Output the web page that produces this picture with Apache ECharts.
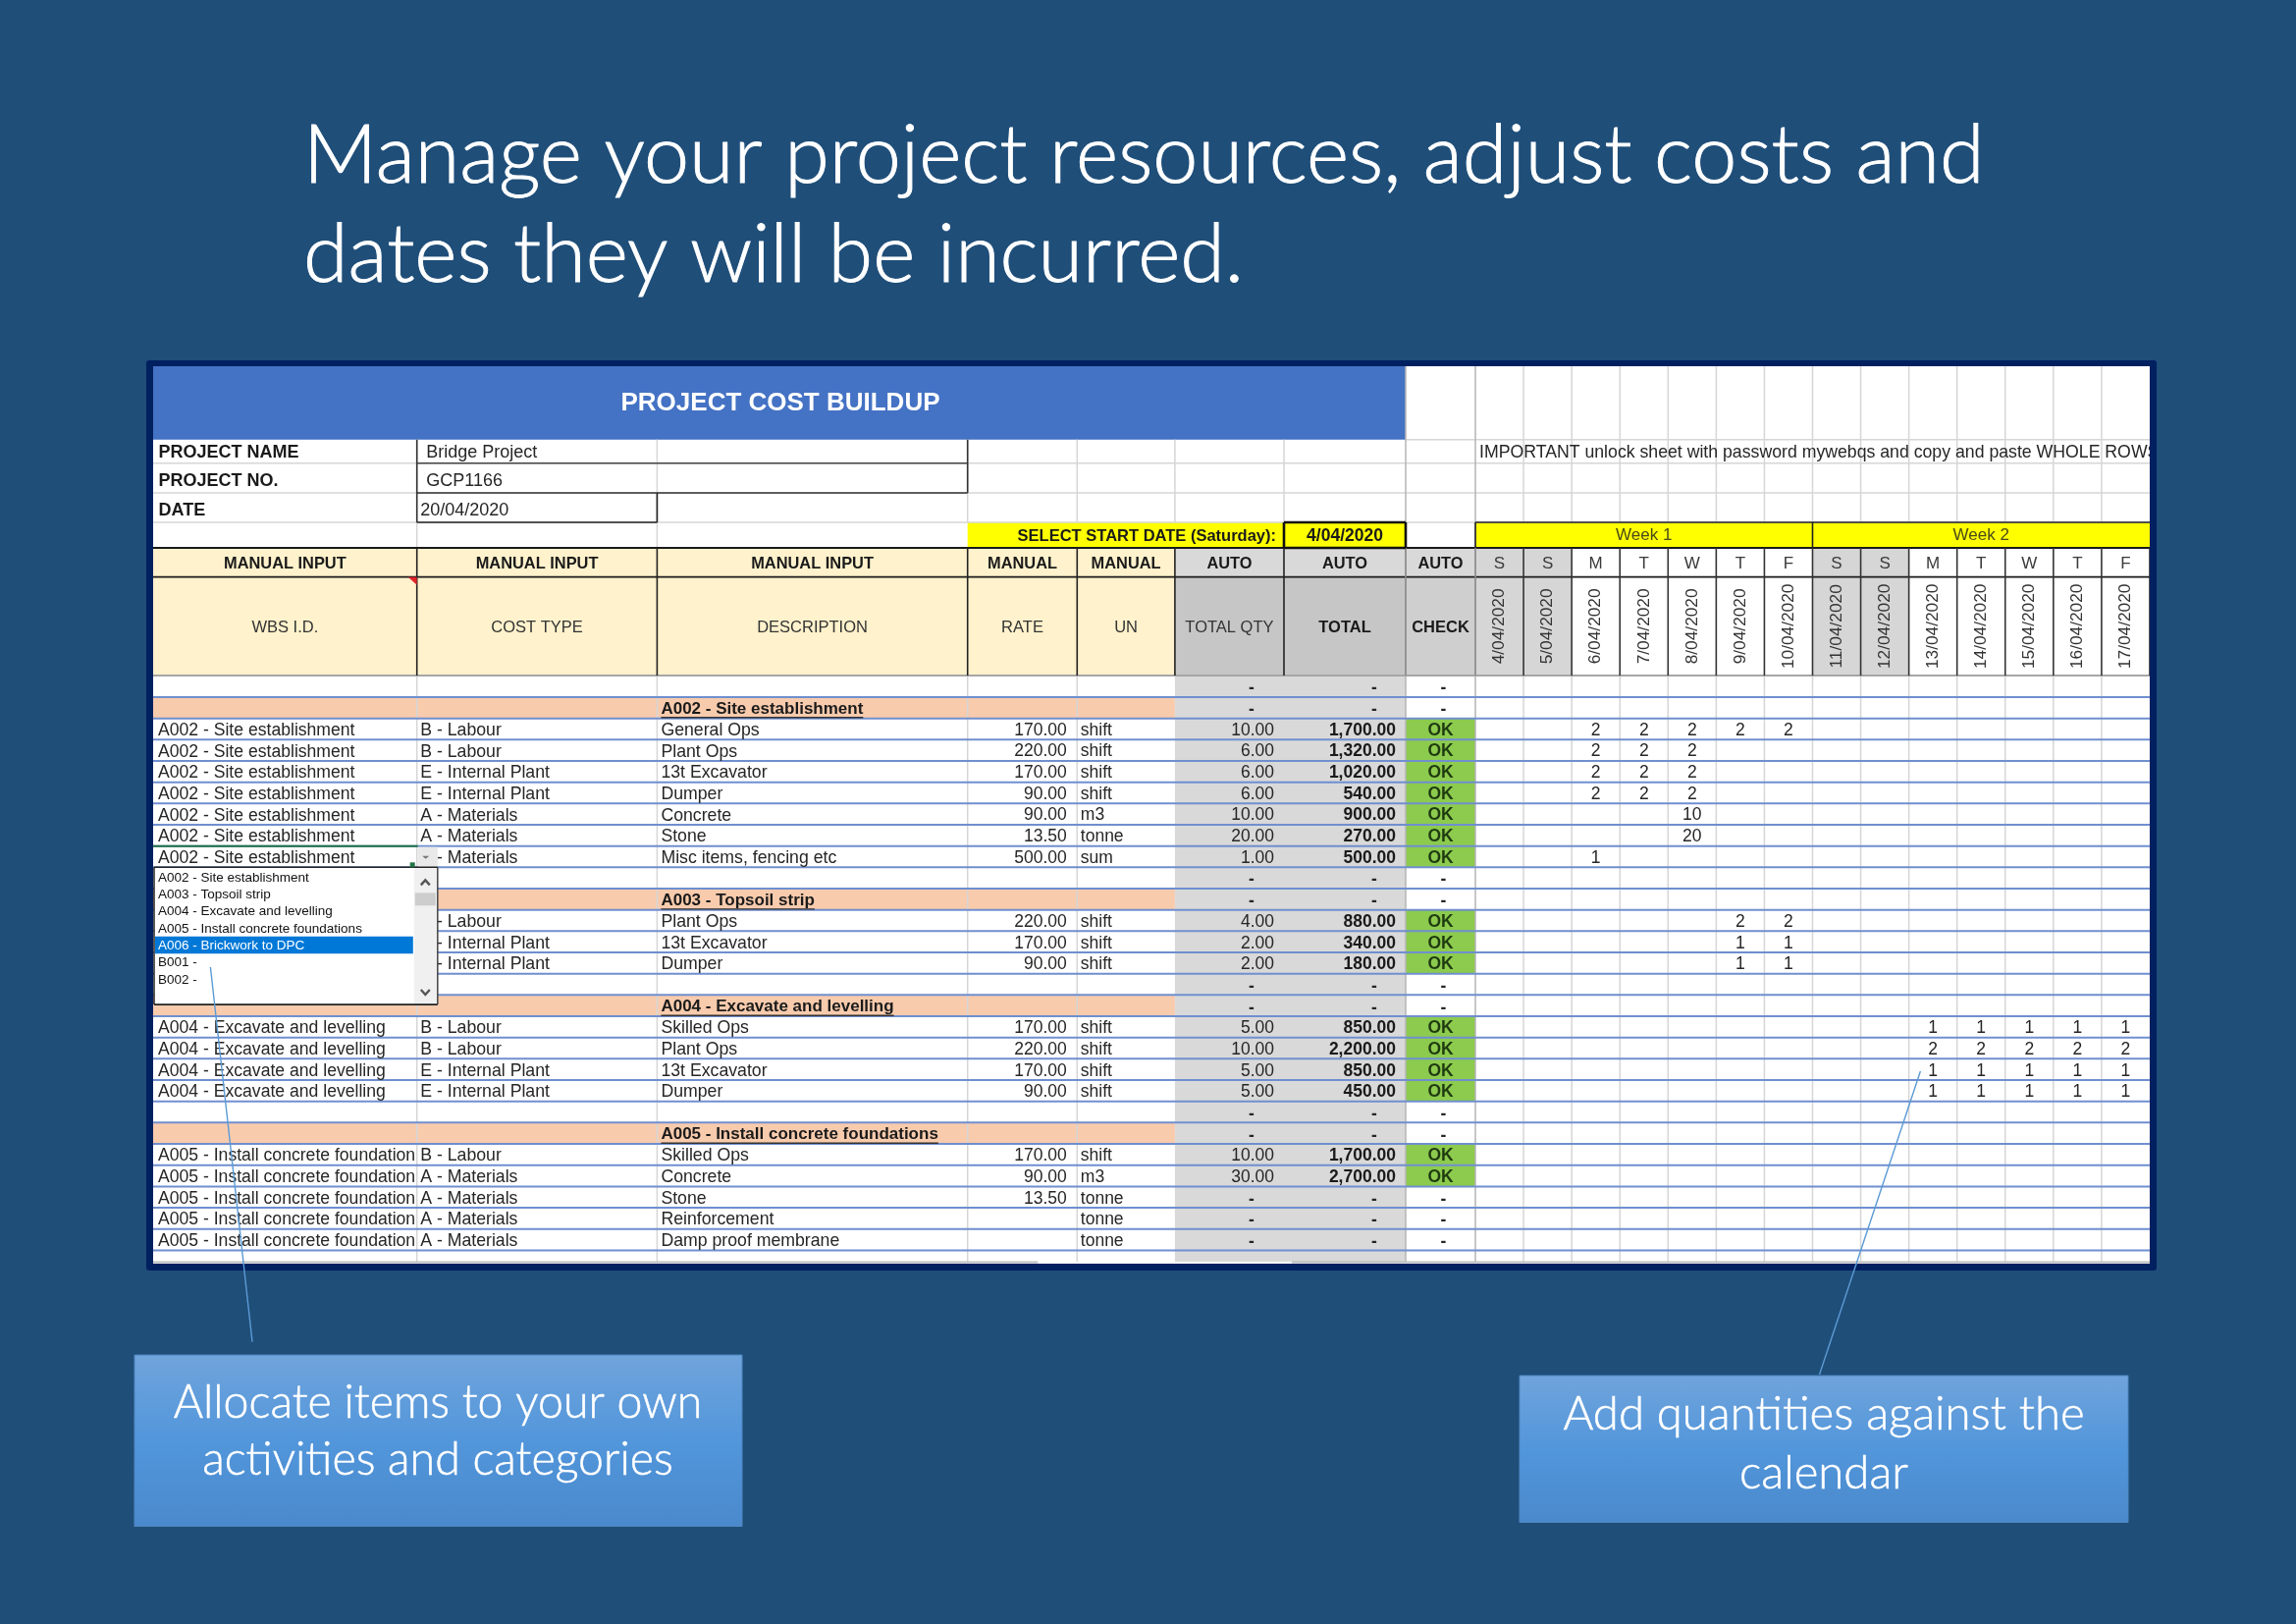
<!DOCTYPE html>
<html>
<head>
<meta charset="utf-8">
<title>Project cost buildup</title>
<style>html,body{margin:0;padding:0;background:#1F4E79;}</style>
<script src="https://cdn.jsdelivr.net/npm/echarts@6/dist/echarts.min.js"></script>
</head>
<body>
<div id="main" style="width:2339px;height:1654px;"></div>
<script>
// slide text
var slideTitle = 'Manage your project resources, adjust costs and\ndates they will be incurred.';
var calloutLeft = 'Allocate items to your own\nactivities and categories';
var calloutRight = 'Add quantities against the\ncalendar';

// sheet header text
var sheetTitle = 'PROJECT COST BUILDUP';
var infoLabels = ['PROJECT NAME', 'PROJECT NO.', 'DATE'];
var infoValues = ['Bridge Project', 'GCP1166', '20/04/2020'];
var sheetNote = 'IMPORTANT unlock sheet with password mywebqs and copy and paste WHOLE ROWS';
var startDateLabel = 'SELECT START DATE (Saturday):';
var startDate = '4/04/2020';
var weekLabels = ['Week 1', 'Week 2'];
var inputHeads = ['MANUAL INPUT', 'MANUAL INPUT', 'MANUAL INPUT', 'MANUAL', 'MANUAL', 'AUTO', 'AUTO', 'AUTO'];
var colHeads = ['WBS I.D.', 'COST TYPE', 'DESCRIPTION', 'RATE', 'UN', 'TOTAL QTY', 'TOTAL', 'CHECK'];
var dayLetters = ['S', 'S', 'M', 'T', 'W', 'T', 'F', 'S', 'S', 'M', 'T', 'W', 'T', 'F'];
var dayDates = ['4/04/2020', '5/04/2020', '6/04/2020', '7/04/2020', '8/04/2020', '9/04/2020', '10/04/2020',
  '11/04/2020', '12/04/2020', '13/04/2020', '14/04/2020', '15/04/2020', '16/04/2020', '17/04/2020'];

// table rows, one entry per row
var A2 = 'A002 - Site establishment', A3 = 'A003 - Topsoil strip', A4 = 'A004 - Excavate and levelling', A5 = 'A005 - Install concrete foundation';
var LAB = 'B - Labour', PLANT = 'E - Internal Plant', MAT = 'A - Materials';
var sectionNames = [null, A2, null, null, null, null, null, null, null, null, A3, null, null, null, null, A4, null, null, null, null, null, 'A005 - Install concrete foundations', null, null, null, null, null];
var wbsIds = [null, null, A2, A2, A2, A2, A2, A2, A2, null, null, A3, A3, A3, null, null, A4, A4, A4, A4, null, null, A5, A5, A5, A5, A5];
var costTypes = [null, null, LAB, LAB, PLANT, PLANT, MAT, MAT, MAT, null, null, LAB, PLANT, PLANT, null, null, LAB, LAB, PLANT, PLANT, null, null, LAB, MAT, MAT, MAT, MAT];
var descriptions = [null, null, 'General Ops', 'Plant Ops', '13t Excavator', 'Dumper', 'Concrete', 'Stone', 'Misc items, fencing etc', null, null, 'Plant Ops', '13t Excavator', 'Dumper', null, null, 'Skilled Ops', 'Plant Ops', '13t Excavator', 'Dumper', null, null, 'Skilled Ops', 'Concrete', 'Stone', 'Reinforcement', 'Damp proof membrane'];
var rates = [null, null, 170, 220, 170, 90, 90, 13.5, 500, null, null, 220, 170, 90, null, null, 170, 220, 170, 90, null, null, 170, 90, 13.5, null, null];
var units = [null, null, 'shift', 'shift', 'shift', 'shift', 'm3', 'tonne', 'sum', null, null, 'shift', 'shift', 'shift', null, null, 'shift', 'shift', 'shift', 'shift', null, null, 'shift', 'm3', 'tonne', 'tonne', 'tonne'];
var totalQtys = [0, 0, 10, 6, 6, 6, 10, 20, 1, 0, 0, 4, 2, 2, 0, 0, 5, 10, 5, 5, 0, 0, 10, 30, 0, 0, 0];
var totals = [0, 0, 1700, 1320, 1020, 540, 900, 270, 500, 0, 0, 880, 340, 180, 0, 0, 850, 2200, 850, 450, 0, 0, 1700, 2700, 0, 0, 0];
// [row, day, qty]
var dailyQty = [
  [2, 2, 2], [2, 3, 2], [2, 4, 2], [2, 5, 2], [2, 6, 2],
  [3, 2, 2], [3, 3, 2], [3, 4, 2],
  [4, 2, 2], [4, 3, 2], [4, 4, 2],
  [5, 2, 2], [5, 3, 2], [5, 4, 2],
  [6, 4, 10], [7, 4, 20], [8, 2, 1],
  [11, 5, 2], [11, 6, 2], [12, 5, 1], [12, 6, 1], [13, 5, 1], [13, 6, 1],
  [16, 9, 1], [16, 10, 1], [16, 11, 1], [16, 12, 1], [16, 13, 1],
  [17, 9, 2], [17, 10, 2], [17, 11, 2], [17, 12, 2], [17, 13, 2],
  [18, 9, 1], [18, 10, 1], [18, 11, 1], [18, 12, 1], [18, 13, 1],
  [19, 9, 1], [19, 10, 1], [19, 11, 1], [19, 12, 1], [19, 13, 1]
];
var dropdownItems = ['A002 - Site establishment', 'A003 - Topsoil strip', 'A004 - Excavate and levelling', 'A005 - Install concrete foundations', 'A006 - Brickwork to DPC', 'B001 -', 'B002 -'];
var dropdownSelected = 4;

// layout of the sheet (column widths, row heights), in page pixels
var sheetLeft = 156, sheetTop = 373;
var colWidths = [268.7, 244.7, 316.3, 111.6, 99.6, 111.1, 124, 71];
dayLetters.forEach(function () { colWidths.push(49.07); });
var headHeights = [74.7, 24, 30.3, 30, 26, 29.7, 100.3];
var dataRowH = 21.67;
var colX = [0];
colWidths.forEach(function (w, i) { colX.push(colX[i] + w); });
var headY = [0];
headHeights.forEach(function (h, i) { headY.push(headY[i] + h); });
var firstRowY = headY[7];
function rowY(r) { return firstRowY + r * dataRowH + (r > 0 ? 0.3 : 0); }
var sheetW = colX[colX.length - 1];
var sheetH = 914;
var dataEnd = 912;
var textNudge = 1.5;

var FONT = '"Liberation Sans", Arial, sans-serif';
var INK = '#262626';
var cells = [];

function rect(x0, y0, x1, y1, fill) { cells.push({ t: 'rect', x0: x0, y0: y0, x1: x1, y1: y1, fill: fill }); }
function line(x0, y0, x1, y1, stroke, w) { cells.push({ t: 'line', x0: x0, y0: y0, x1: x1, y1: y1, stroke: stroke, w: w || 1.5 }); }
function text(x, y, str, size, o) {
  o = o || {};
  cells.push({ t: 'text', x0: x, y0: o.rot ? y : y + textNudge, str: str, size: size, bold: o.bold, align: o.align || 'left', fill: o.fill || INK, rot: o.rot || 0 });
}
var measure = document.createElement('canvas').getContext('2d');
function textWidth(str, size, bold) {
  measure.font = (bold ? 'bold ' : '') + size + 'px ' + FONT;
  return measure.measureText(str).width;
}
function money(v) { return echarts.format.addCommas(v.toFixed(2)); }

// fills
rect(0, 0, sheetW, sheetH, '#FFFFFF');
rect(0, 0, colX[7], headY[1], '#4472C4');
rect(colX[3], headY[4], colX[7], headY[5], '#FFFF00');
rect(colX[8], headY[4], sheetW, headY[5], '#FFFF00');
rect(0, headY[5], colX[5], headY[7], '#FFF2CC');
rect(colX[5], headY[5], colX[8], headY[6], '#D9D9D9');
rect(colX[5], headY[6], colX[7], headY[7], '#C6C6C6');
rect(colX[7], headY[6], colX[8], headY[7], '#CFCFCF');
dayLetters.forEach(function (d, i) {
  if (d === 'S') rect(colX[8 + i], headY[5], colX[9 + i], headY[7], '#D6D6D6');
});
rect(colX[5], firstRowY, colX[7], dataEnd, '#D9D9D9');
totals.forEach(function (v, r) {
  if (sectionNames[r]) rect(0, rowY(r), colX[5], rowY(r + 1), '#F8CBAD');
  if (v > 0) rect(colX[7], rowY(r), colX[8], rowY(r + 1), '#8CCB4E');
});

// light grid
var GRID = '#D6D6D6';
[1, 2, 3, 4, 5, 6].forEach(function (c) {
  line(colX[c], headY[1], colX[c], headY[4], GRID, 1.5);
});
[1, 2].forEach(function (c) { line(colX[c], headY[4], colX[c], headY[5], GRID, 1.5); });
[1, 2, 3, 4].forEach(function (c) { line(colX[c], firstRowY, colX[c], dataEnd, GRID, 1.5); });
for (var c = 9; c < colX.length - 1; c++) {
  line(colX[c], 0, colX[c], headY[4], GRID, 1.5);
  line(colX[c], firstRowY, colX[c], dataEnd, GRID, 1.5);
}
[2, 3, 4].forEach(function (i) { line(0, headY[i], sheetW, headY[i], GRID, 1.5); });
line(colX[7], headY[1], sheetW, headY[1], GRID, 1.5);
[7, 8].forEach(function (c) { line(colX[c], 0, colX[c], dataEnd, '#B4B4B4', 1.5); });
line(0, sheetH - 1.5, colX[4] - 40, sheetH - 1.5, '#BDBDBD', 2);
line(colX[6] + 8, sheetH - 1.5, sheetW, sheetH - 1.5, '#BDBDBD', 2);

// blue row rules
line(0, firstRowY, sheetW, firstRowY, '#A6A6A6', 2);
for (var r = 1; r <= 27; r++) line(0, rowY(r), sheetW, rowY(r), '#6F8FCF', 2);

// header rules
line(0, headY[5], sheetW, headY[5], '#1A1A1A', 1.8);
line(0, headY[6], sheetW, headY[6], '#1A1A1A', 1.8);
[1, 2, 3, 4, 5, 6].forEach(function (c) { line(colX[c], headY[5], colX[c], headY[7], '#222222', 1.6); });
[7, 8].forEach(function (c) { line(colX[c], headY[5], colX[c], headY[7], '#8C8C8C', 1.6); });
for (var c2 = 9; c2 < colX.length; c2++) line(colX[c2], headY[5], colX[c2], headY[7], '#333333', 1.6);
// project info boxes
line(colX[1], headY[1], colX[1], headY[4], '#333333', 1.6);
line(colX[1], headY[2], colX[3], headY[2], '#444444', 1.6);
line(colX[1], headY[3], colX[3], headY[3], '#333333', 1.6);
line(colX[3], headY[1], colX[3], headY[3], '#333333', 1.6);
line(colX[2], headY[3], colX[2], headY[4], '#222222', 1.6);
line(colX[1], headY[4], colX[2], headY[4], '#222222', 1.6);
// week bar and start date box
line(colX[8], headY[4], sheetW, headY[4], '#222222', 1.6);
line(colX[15], headY[4], colX[15], headY[5], '#222222', 1.6);
line(colX[8], headY[4], colX[8], headY[5], '#222222', 1.6);
line(colX[6], headY[4], colX[7], headY[4], '#111111', 2.6);
line(colX[6], headY[5], colX[7], headY[5], '#111111', 2.6);
line(colX[6], headY[4], colX[6], headY[5], '#111111', 2.6);
line(colX[7], headY[4], colX[7], headY[5], '#111111', 2.6);
// comment marker on the WBS head
cells.push({ t: 'poly', pts: [[colX[1] - 9, headY[6]], [colX[1], headY[6]], [colX[1], headY[6] + 8]], fill: '#E0232A', x0: colX[1], y0: headY[6] });

// header text
text((colX[0] + colX[7]) / 2 + 1, headY[1] / 2 - 1.5, sheetTitle, 26, { bold: true, align: 'center', fill: '#FFFFFF' });
infoLabels.forEach(function (s, i) {
  var y = (headY[i + 1] + headY[i + 2]) / 2 + (i > 0 ? 1.5 : 0);
  text(5.6, y, s, 18, { bold: true, fill: '#1A1A1A' });
  text(colX[1] + (i < 2 ? 9.5 : 3.5), y, infoValues[i], 18);
});
text(colX[8] + 4, (headY[1] + headY[2]) / 2, sheetNote, 17.7);
text(colX[6] - 8, (headY[4] + headY[5]) / 2, startDateLabel, 16.5, { bold: true, align: 'right', fill: '#1A1A1A' });
text((colX[6] + colX[7]) / 2, (headY[4] + headY[5]) / 2, startDate, 17.5, { bold: true, align: 'center', fill: '#1A1A1A' });
weekLabels.forEach(function (s, i) {
  text((colX[8 + i * 7] + colX[15 + i * 7]) / 2, (headY[4] + headY[5]) / 2 - 1, s, 17, { align: 'center', fill: '#4A4A1A' });
});
inputHeads.forEach(function (s, i) {
  text((colX[i] + colX[i + 1]) / 2, (headY[5] + headY[6]) / 2, s, 16.4, { bold: true, align: 'center', fill: '#1A1A1A' });
});
colHeads.forEach(function (s, i) {
  var isBold = s === 'TOTAL' || s === 'CHECK';
  text((colX[i] + colX[i + 1]) / 2, (headY[6] + headY[7]) / 2, s, 16.5, { bold: isBold, align: 'center', fill: isBold ? '#1A1A1A' : '#333333' });
});
dayLetters.forEach(function (s, i) {
  var cx = (colX[8 + i] + colX[9 + i]) / 2;
  text(cx, (headY[5] + headY[6]) / 2, s, 17, { align: 'center', fill: '#3A3A3A' });
  text(cx, (headY[6] + headY[7]) / 2, dayDates[i], 17.3, { align: 'center', rot: Math.PI / 2, fill: '#333333' });
});

// table text
totals.forEach(function (v, r) {
  var y = (rowY(r) + rowY(r + 1)) / 2;
  if (sectionNames[r]) {
    var w = textWidth(sectionNames[r], 17, true);
    text(colX[2] + 4, y, sectionNames[r], 17, { bold: true, fill: '#1A1A1A' });
    line(colX[2] + 4, y + 10, colX[2] + 4 + w, y + 10, '#333333', 1.4);
  }
  if (wbsIds[r]) text(5, y, wbsIds[r], 17.6);
  if (costTypes[r]) text(colX[1] + 3.5, y, costTypes[r], 17.7);
  if (descriptions[r]) text(colX[2] + 4, y, descriptions[r], 17.7);
  if (rates[r] != null) text(colX[4] - 10.5, y, money(rates[r]), 17.5, { align: 'right' });
  if (units[r]) text(colX[4] + 3.5, y, units[r], 17.5);
  if (totalQtys[r] > 0) text(colX[6] - 10, y, money(totalQtys[r]), 17.5, { align: 'right' });
  else text(colX[6] - 33, y + 1, '-', 17.5, { align: 'center', bold: true });
  if (v > 0) {
    text(colX[7] - 10, y, money(v), 17.5, { align: 'right', bold: true, fill: '#1A1A1A' });
    text((colX[7] + colX[8]) / 2, y, 'OK', 17.5, { align: 'center', bold: true, fill: '#1F3A10' });
  } else {
    text(colX[7] - 32, y + 1, '-', 17.5, { align: 'center', bold: true });
    text((colX[7] + colX[8]) / 2 + 3, y + 1, '-', 17.5, { align: 'center', bold: true });
  }
});
dailyQty.forEach(function (d) {
  text((colX[8 + d[1]] + colX[9 + d[1]]) / 2, (rowY(d[0]) + rowY(d[0] + 1)) / 2, String(d[2]), 17.5, { align: 'center' });
});

// open validation dropdown on the active cell
var ddRow = 8;
var ddTop = rowY(ddRow + 1), ddLeft = 1, ddRight = 289.8, ddBottom = ddTop + 139.7, ddItemH = 17.33;
line(0, rowY(ddRow), colX[1] + 1, rowY(ddRow), '#217346', 2);
rect(colX[1] + 1, rowY(ddRow) + 1, ddRight, ddTop, '#E9E9E9');
cells.push({ t: 'poly', pts: [[colX[1] + 5.5, rowY(ddRow) + 10], [colX[1] + 12.5, rowY(ddRow) + 10], [colX[1] + 9, rowY(ddRow) + 13]], fill: '#777777', x0: colX[1], y0: ddTop });
rect(ddLeft, ddTop, ddRight, ddBottom, '#FFFFFF');
rect(ddRight - 24, ddTop + 1, ddRight, ddBottom, '#F0F0F0');
rect(ddRight - 23, ddTop + 26, ddRight - 2, ddTop + 39, '#CDCDCD');
rect(ddLeft + 1, ddTop + 70.5, ddRight - 25, ddTop + 88, '#0078D7');
dropdownItems.forEach(function (s, i) {
  text(ddLeft + 4, ddTop + 9 + i * ddItemH, s, 13.5, { fill: i === dropdownSelected ? '#FFFFFF' : '#111111' });
});
cells.push({ t: 'chev', pts: [[ddRight - 17, ddTop + 18], [ddRight - 12.5, ddTop + 13], [ddRight - 8, ddTop + 18]], x0: ddRight, y0: ddTop });
cells.push({ t: 'chev', pts: [[ddRight - 17, ddBottom - 15], [ddRight - 12.5, ddBottom - 10], [ddRight - 8, ddBottom - 15]], x0: ddRight, y0: ddBottom });
line(ddLeft, ddTop, ddLeft, ddBottom, '#222222', 1.5);
line(ddLeft, ddBottom, ddRight, ddBottom, '#222222', 1.8);
line(ddRight, ddTop, ddRight, ddBottom, '#444444', 1.5);
line(ddLeft, ddTop, ddRight, ddTop, '#222222', 1.5);
rect(colX[1] - 7, ddTop - 5, colX[1] - 2, ddTop, '#217346');

function renderCell(params, api) {
  var c = cells[params.dataIndex];
  function px(x, y) { return api.coord([x, y]); }
  if (c.t === 'rect') {
    var a = px(c.x0, c.y0), b = px(c.x1, c.y1);
    return { type: 'rect', shape: { x: a[0], y: a[1], width: b[0] - a[0], height: b[1] - a[1] }, style: { fill: c.fill } };
  }
  if (c.t === 'line') {
    var p = px(c.x0, c.y0), q = px(c.x1, c.y1);
    return { type: 'line', shape: { x1: p[0], y1: p[1], x2: q[0], y2: q[1] }, style: { stroke: c.stroke, lineWidth: c.w } };
  }
  if (c.t === 'poly') {
    return { type: 'polygon', shape: { points: c.pts.map(function (o) { return px(o[0], o[1]); }) }, style: { fill: c.fill } };
  }
  if (c.t === 'chev') {
    return { type: 'polyline', shape: { points: c.pts.map(function (o) { return px(o[0], o[1]); }) }, style: { stroke: '#555555', lineWidth: 2.4, fill: null } };
  }
  var t = px(c.x0, c.y0);
  return {
    type: 'text', x: t[0], y: t[1], rotation: c.rot,
    style: {
      text: c.str, fill: c.fill, align: c.align, verticalAlign: 'middle',
      font: (c.bold ? 'bold ' : '') + c.size + 'px ' + FONT
    }
  };
}

var boxGradient = { type: 'linear', x: 0, y: 0, x2: 0, y2: 1, colorStops: [
  { offset: 0, color: '#70A4DC' }, { offset: 0.5, color: '#5296DB' }, { offset: 1, color: '#4A89CC' }
] };
var SLIDE_FAMILY = 'Lato, "Open Sans", sans-serif';

var chart = echarts.init(document.getElementById('main'), null, { renderer: 'canvas' });
chart.setOption({
  backgroundColor: '#1F4E79',
  animation: false,
  title: {
    text: slideTitle, left: 304, top: 104,
    textStyle: { color: '#FFFFFF', fontFamily: 'Lato', fontWeight: 300, fontSize: 82.7, lineHeight: 101, textBorderColor: '#FFFFFF', textBorderWidth: 0.9 }
  },
  grid: { left: sheetLeft, top: sheetTop, width: sheetW, height: sheetH },
  xAxis: { type: 'value', min: 0, max: sheetW, show: false },
  yAxis: { type: 'value', min: 0, max: sheetH, inverse: true, show: false },
  graphic: { elements: [
    { type: 'rect', z: 0, shape: { x: 149, y: 367, width: 2048, height: 927, r: 3 }, style: { fill: '#002060' } },
    { type: 'line', z: 20, shape: { x1: 214.4, y1: 985, x2: 257, y2: 1366.7 }, style: { stroke: '#5B9BD5', lineWidth: 1.4 } },
    { type: 'line', z: 20, shape: { x1: 1956.4, y1: 1091, x2: 1853.5, y2: 1400 }, style: { stroke: '#5B9BD5', lineWidth: 1.4 } },
    { type: 'rect', z: 21, shape: { x: 137, y: 1380, width: 619, height: 174.5 }, style: { fill: boxGradient, stroke: '#4F86C0', lineWidth: 1 } },
    { type: 'text', z: 22, x: 446, y: 1458, style: { text: calloutLeft, fill: '#FFFFFF', font: '300 46.5px ' + SLIDE_FAMILY, align: 'center', verticalAlign: 'middle', lineHeight: 58, stroke: '#FFFFFF', lineWidth: 0.5 } },
    { type: 'rect', z: 21, shape: { x: 1548, y: 1401, width: 620, height: 149.5 }, style: { fill: boxGradient, stroke: '#4F86C0', lineWidth: 1 } },
    { type: 'text', z: 22, x: 1858, y: 1471, style: { text: calloutRight, fill: '#FFFFFF', font: '300 47.3px ' + SLIDE_FAMILY, align: 'center', verticalAlign: 'middle', lineHeight: 60, stroke: '#FFFFFF', lineWidth: 0.5 } }
  ] },
  series: [{
    type: 'custom',
    silent: true,
    clip: true,
    progressive: 0,
    z: 5,
    renderItem: renderCell,
    encode: { x: 0, y: 1 },
    data: cells.map(function (c) { return [c.x0, c.y0]; })
  }]
});
</script>
</body>
</html>
